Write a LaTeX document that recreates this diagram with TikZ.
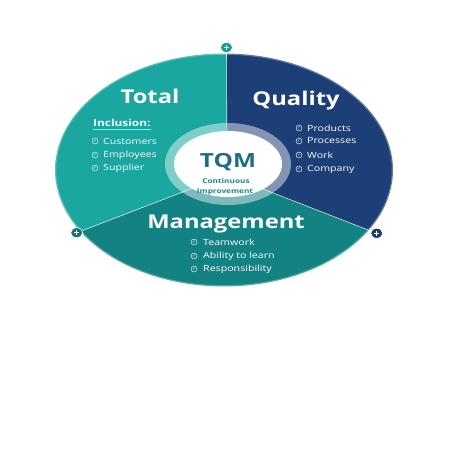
\documentclass[tikz,border=0pt]{standalone}
\usepackage{fontspec}
\usetikzlibrary{shapes.geometric}
\setmainfont{Open Sans}
\newfontfamily\wdfont[FakeStretch=1.25]{Open Sans}
\newfontfamily\symfont{DejaVu Sans}
\definecolor{totalc}{HTML}{19A79F}
\definecolor{qualc}{HTML}{1C3F78}
\definecolor{mgmtc}{HTML}{138283}
\definecolor{tqmc}{HTML}{1D6E85}
\definecolor{contc}{HTML}{24838A}
\definecolor{ptopc}{HTML}{1A9A96}
\definecolor{pleftc}{HTML}{167377}
\definecolor{prightc}{HTML}{1E3A6C}
\newcommand{\hd}{\wdfont\bfseries\fontsize{19}{20}\selectfont}
\newcommand{\itm}{\wdfont\fontsize{8.5}{9}\selectfont}
\newcommand{\ck}{\symfont\fontsize{4.6}{5}\selectfont}

\begin{document}
\begin{tikzpicture}[x=1pt,y=-1pt,
    item/.style={anchor=west,text=white,font=\itm,inner sep=0pt},
    chk/.style={circle,draw=white!80!gray,line width=0.5pt,inner sep=0.4pt,text=white,font=\ck},
    plus/.style={ellipse,draw=white,line width=0.6pt,minimum width=12pt,minimum height=10pt,inner sep=0pt,
        path picture={\draw[white,line width=0.9pt]
            (path picture bounding box.center) ++(-2.6,0) -- ++(5.2,0)
            (path picture bounding box.center) ++(0,-2.6) -- ++(0,5.2);}},
    divider/.style={white,opacity=0.75,line width=0.6pt}]
    \useasboundingbox (0,0) rectangle (453,453);

    % three segments
    \coordinate (c) at (227,175);
    \begin{scope}
        \clip (224,170) ellipse [x radius=169, y radius=116.5];
        \fill[totalc] (c) -- (227,-10) -- (-10,-10) -- (-10,266.6) -- cycle;
        \fill[qualc] (c) -- (227,-10) -- (463,-10) -- (463,266.9) -- cycle;
        \fill[mgmtc] (c) -- (-10,266.6) -- (-10,463) -- (463,463) -- (463,266.9) -- cycle;
    \end{scope}
    \draw[white,opacity=0.3,line width=2.5pt] (224,170) ellipse [x radius=169, y radius=116.5];

    % markers
    \node[plus,fill=ptopc] (ptop) at (226.5,47.5) {};
    \node[plus,fill=pleftc] (pleft) at (76.7,232.7) {};
    \node[plus,fill=prightc] (pright) at (376.7,233.3) {};

    % dividers
    \draw[divider] (c) -- (ptop);
    \draw[divider] (c) -- (pleft);
    \draw[divider] (c) -- (pright);

    % centre
    \fill[white,opacity=0.45] (228,164) ellipse [x radius=63, y radius=41];
    \fill[white] (228,164) ellipse [x radius=54, y radius=33];
    \node[anchor=base,text=tqmc,font=\wdfont\bfseries\fontsize{19.5}{20}\selectfont] (tqm) at (228,167) {TQM};
    \node[anchor=base,text=contc,font=\wdfont\bfseries\fontsize{6.6}{7}\selectfont] (cont) at (226,183) {Continuous};
    \node[anchor=base,text=contc,font=\wdfont\bfseries\fontsize{6.6}{7}\selectfont] (impr) at (225,193) {Improvement};

    % Total
    \node[anchor=base,text=white,font=\hd] (total) at (150,103) {Total};
    \node[anchor=base west,text=white,font=\wdfont\bfseries\fontsize{9.5}{10}\selectfont,inner sep=0pt] (incl) at (93,126) {Inclusion:};
    \draw[white,opacity=0.6,line width=0.5pt] ([yshift=-2.5]incl.south west) -- ([yshift=-2.5]incl.south east);
    \node[chk] (c1) at (95,141) {✓};
    \node[item] (cust) at (103,141) {Customers};
    \node[chk] (c2) at (95,155) {✓};
    \node[item] (empl) at (103,155) {Employees};
    \node[chk] (c3) at (95,168) {✓};
    \node[item] (supp) at (103,168) {Supplier};

    % Quality
    \node[anchor=base,text=white,font=\hd] (quality) at (296,105) {Quality};
    \node[chk] (q1) at (299,128) {✓};
    \node[item] (prod) at (307,128) {Products};
    \node[chk] (q2) at (299,141) {✓};
    \node[item] (proc) at (307,141) {Processes};
    \node[chk] (q3) at (299,155) {✓};
    \node[item] (work) at (307,155) {Work};
    \node[chk] (q4) at (299,169) {✓};
    \node[item] (comp) at (307,169) {Company};

    % Management
    \node[anchor=base,text=white,font=\hd] (mgmt) at (226,228) {Management};
    \node[chk] (m1) at (194,242) {✓};
    \node[item] (team) at (203,242) {Teamwork};
    \node[chk] (m2) at (194,256) {✓};
    \node[item] (abil) at (203,256) {Ability to learn};
    \node[chk] (m3) at (194,269) {✓};
    \node[item] (resp) at (203,269) {Responsibility};
\end{tikzpicture}
\end{document}
